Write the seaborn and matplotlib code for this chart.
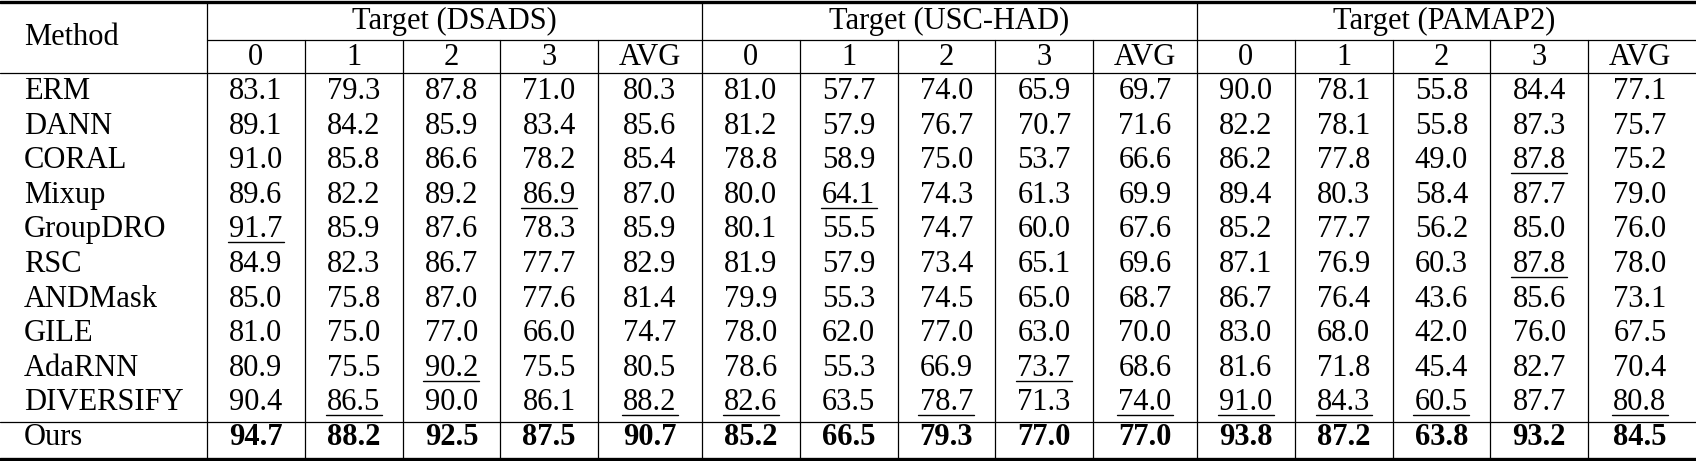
import matplotlib
matplotlib.use("Agg")
import matplotlib.pyplot as plt
import seaborn as sns
import numpy as np

sns.set_theme(style="white")
plt.rcParams['font.family'] = ['Liberation Serif', 'DejaVu Serif']
plt.rcParams['text.color'] = 'black'

methods = ["ERM", "DANN", "CORAL", "Mixup", "GroupDRO", "RSC", "ANDMask", "GILE", "AdaRNN", "DIVERSIFY", "Ours"]
targets = ["Target (DSADS)", "Target (USC-HAD)", "Target (PAMAP2)"]
sub_cols = ["0", "1", "2", "3", "AVG"]

dsads = [[83.1, 79.3, 87.8, 71.0, 80.3],
         [89.1, 84.2, 85.9, 83.4, 85.6],
         [91.0, 85.8, 86.6, 78.2, 85.4],
         [89.6, 82.2, 89.2, 86.9, 87.0],
         [91.7, 85.9, 87.6, 78.3, 85.9],
         [84.9, 82.3, 86.7, 77.7, 82.9],
         [85.0, 75.8, 87.0, 77.6, 81.4],
         [81.0, 75.0, 77.0, 66.0, 74.7],
         [80.9, 75.5, 90.2, 75.5, 80.5],
         [90.4, 86.5, 90.0, 86.1, 88.2],
         [94.7, 88.2, 92.5, 87.5, 90.7]]
uschad = [[81.0, 57.7, 74.0, 65.9, 69.7],
          [81.2, 57.9, 76.7, 70.7, 71.6],
          [78.8, 58.9, 75.0, 53.7, 66.6],
          [80.0, 64.1, 74.3, 61.3, 69.9],
          [80.1, 55.5, 74.7, 60.0, 67.6],
          [81.9, 57.9, 73.4, 65.1, 69.6],
          [79.9, 55.3, 74.5, 65.0, 68.7],
          [78.0, 62.0, 77.0, 63.0, 70.0],
          [78.6, 55.3, 66.9, 73.7, 68.6],
          [82.6, 63.5, 78.7, 71.3, 74.0],
          [85.2, 66.5, 79.3, 77.0, 77.0]]
pamap2 = [[90.0, 78.1, 55.8, 84.4, 77.1],
          [82.2, 78.1, 55.8, 87.3, 75.7],
          [86.2, 77.8, 49.0, 87.8, 75.2],
          [89.4, 80.3, 58.4, 87.7, 79.0],
          [85.2, 77.7, 56.2, 85.0, 76.0],
          [87.1, 76.9, 60.3, 87.8, 78.0],
          [86.7, 76.4, 43.6, 85.6, 73.1],
          [83.0, 68.0, 42.0, 76.0, 67.5],
          [81.6, 71.8, 45.4, 82.7, 70.4],
          [91.0, 84.3, 60.5, 87.7, 80.8],
          [93.8, 87.2, 63.8, 93.2, 84.5]]
# underlined (second best) cells: (panel, row, col)
underlined = [(0, 4, 0), (0, 9, 1), (0, 8, 2), (0, 3, 3), (0, 9, 4),
              (1, 9, 0), (1, 3, 1), (1, 9, 2), (1, 8, 3), (1, 9, 4),
              (2, 9, 0), (2, 9, 1), (2, 9, 2), (2, 2, 3), (2, 5, 3), (2, 9, 4)]
bold_row = 10

W, H = 1696, 461
fig = plt.figure(figsize=(W / 100, H / 100), dpi=100)
ax = fig.add_axes([0, 0, 1, 1])
ax.set_xlim(0, W)
ax.set_ylim(H, 0)
ax.axis("off")

fs = 22
x0 = 207
col_w = [97.75, 97.75, 97.75, 97.75, 104]
edges = [x0]
for p in range(3):
    for w in col_w:
        edges.append(edges[-1] + w)
centers = [(edges[i] + edges[i + 1]) / 2 for i in range(15)]

row_c = [89 + 34.6 * i for i in range(10)] + [435]
lc = "black"

ax.plot([0, W], [2, 2], color=lc, lw=2.4)
ax.plot([x0, W], [40, 40], color=lc, lw=0.9)
ax.plot([0, W], [73, 73], color=lc, lw=0.9)
ax.plot([0, W], [422, 422], color=lc, lw=0.9)
ax.plot([0, W], [459, 459], color=lc, lw=2.4)
for i, e in enumerate(edges[:-1]):
    if i % 5 == 0:
        ax.plot([e, e], [2, 459], color=lc, lw=0.9)
    else:
        ax.plot([e, e], [40, 459], color=lc, lw=0.9)

tk = dict(fontsize=fs, va="baseline", color="black")
ax.text(24, 35 + 10, "Method", ha="left", **tk)
for p, t in enumerate(targets):
    cx = (edges[p * 5] + edges[p * 5 + 5]) / 2
    ax.text(cx, 19 + 10, t, ha="center", **tk)
    for j, s in enumerate(sub_cols):
        ax.text(centers[p * 5 + j], 55 + 10, s, ha="center", **tk)

panels = [dsads, uschad, pamap2]
for r, m in enumerate(methods):
    ax.text(24, row_c[r] + 10, m, ha="left", **tk)
    for p, data in enumerate(panels):
        for j in range(5):
            cx = centers[p * 5 + j]
            ax.text(cx, row_c[r] + 10, f"{data[r][j]:.1f}", ha="center",
                    fontweight="bold" if r == bold_row else "normal", **tk)
            if (p, r, j) in underlined:
                ax.plot([cx - 28, cx + 28], [row_c[r] + 15, row_c[r] + 15], color=lc, lw=1.0)

fig.savefig("out.png", dpi=100)
